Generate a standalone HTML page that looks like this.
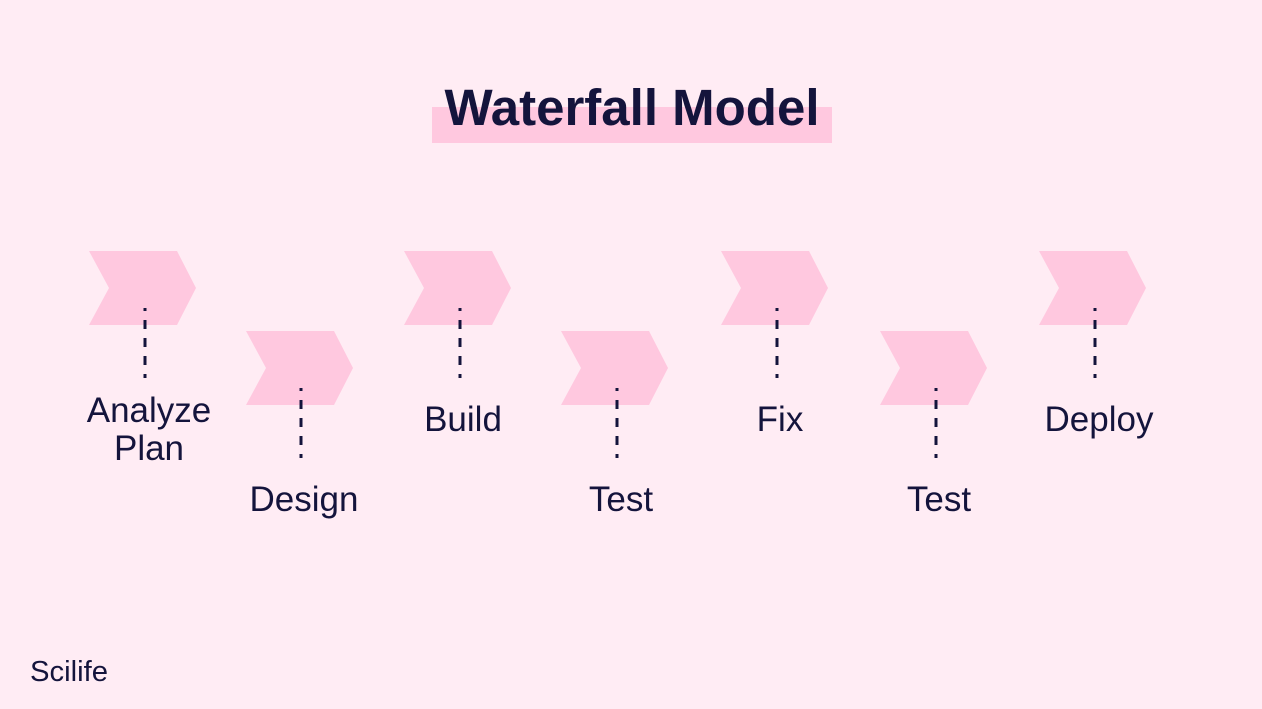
<!DOCTYPE html>
<html><head><meta charset="utf-8"><style>
html,body{margin:0;padding:0;background:#ffecf4;}
svg{display:block;}
text{font-family:"Liberation Sans",sans-serif;fill:#14143c;}
</style></head><body>
<svg width="1262" height="709" viewBox="0 0 1262 709">
<rect width="1262" height="709" fill="#ffecf4"/>
<rect x="432" y="107" width="400" height="36" fill="#ffc8df"/>
<text x="632" y="125" text-anchor="middle" font-size="51" font-weight="bold" textLength="375" lengthAdjust="spacingAndGlyphs">Waterfall Model</text>
<defs>
<polygon id="c" points="0,0 88,0 107,37 88,74 0,74 20,37" fill="#ffc8df"/>
</defs>
<g>
<use href="#c" x="89" y="251"/><use href="#c" x="404" y="251"/><use href="#c" x="721" y="251"/><use href="#c" x="1039" y="251"/>
<use href="#c" x="246" y="331"/><use href="#c" x="561" y="331"/><use href="#c" x="880" y="331"/>
</g>
<g stroke="#14143c" stroke-width="3" stroke-dasharray="9 9" stroke-dashoffset="6">
<line x1="145" y1="308" x2="145" y2="378"/><line x1="460" y1="308" x2="460" y2="378"/>
<line x1="777" y1="308" x2="777" y2="378"/><line x1="1095" y1="308" x2="1095" y2="378"/>
<line x1="301" y1="388" x2="301" y2="458"/><line x1="617" y1="388" x2="617" y2="458"/>
<line x1="936" y1="388" x2="936" y2="458"/>
</g>
<g font-size="35" text-anchor="middle">
<text x="149" y="422">Analyze</text><text x="149" y="460">Plan</text>
<text x="463" y="431">Build</text><text x="780" y="431">Fix</text><text x="1099" y="431">Deploy</text>
<text x="304" y="511">Design</text><text x="621" y="511">Test</text><text x="939" y="511">Test</text>
</g>
<text x="30" y="681" font-size="29" textLength="78" lengthAdjust="spacingAndGlyphs">Scilife</text>
</svg>
</body></html>
